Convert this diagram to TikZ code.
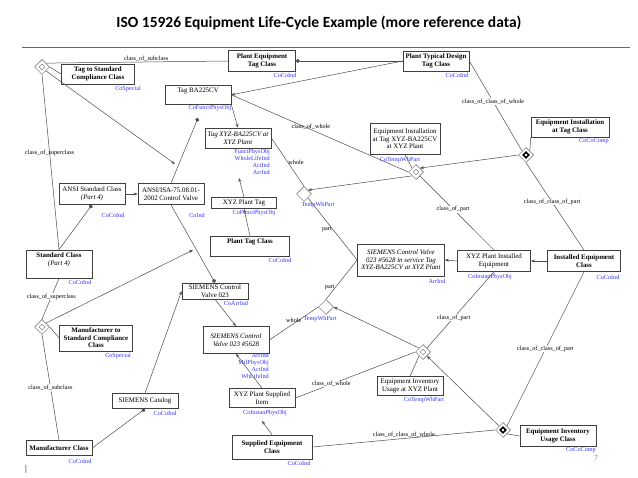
\documentclass[tikz,border=0pt]{standalone}
\usepackage{fontspec}
\setmainfont{Liberation Serif}
\newfontfamily\titlefont{Carlito}
\usetikzlibrary{arrows.meta,shapes.geometric}
\tikzset{
 box/.style={draw=black!75,line width=0.7pt,fill=white,align=center,inner sep=1pt,font=\fontsize{6.9}{7.6}\selectfont},
 bbox/.style={box,font=\fontsize{6.9}{7.6}\selectfont\bfseries},
 ibox/.style={box,font=\fontsize{6.9}{7.6}\selectfont\itshape},
 tag/.style={text=blue!80!white,font=\fontsize{6.2}{7}\selectfont,inner sep=0pt},
 rl/.style={font=\fontsize{6.2}{7}\selectfont,inner sep=0.5pt,fill=white},
 ln/.style={draw=black!70,line width=0.5pt},
 ar/.style={ln,-{Stealth[length=4pt,width=3pt]}},
 dt/.style={ln,-{Circle[length=4pt]}},
 dia/.style={diamond,draw=black!60,line width=0.5pt,fill=white,minimum size=15pt,inner sep=0pt},
 din/.style={diamond,draw=black!60,line width=0.4pt,minimum size=6pt,inner sep=0pt},
 dbin/.style={diamond,draw=black,line width=1.6pt,minimum size=6pt,inner sep=0pt},
}
\begin{document}
\begin{tikzpicture}[x=1pt,y=-1pt]
\useasboundingbox (0,0) rectangle (638,478);
\node[font=\titlefont\fontsize{15.5}{18}\selectfont\bfseries] (title) at (319,23) {ISO 15926 Equipment Life-Cycle Example (more reference data)};
\draw[black!60,line width=0.6pt] (22,47) coordinate (tl1) -- (630,47) coordinate (tl2);

% diamonds
\node[dia] (d1) at (42,67) {}; \node[din] (d1i) at (42,67) {};
\node[dia] (d2) at (42,327) {}; \node[din] (d2i) at (42,327) {};
\node[dia] (dei) at (416,172) {}; \node[din] (deii) at (416,172) {};
\node[dia] (dtw1) at (304,194) {};
\node[dia] (dtw2) at (326,307) {};
\node[dia] (deiu) at (423,352) {}; \node[din] (deiui) at (423,352) {};
\node[dia] (db1) at (526,155) {}; \node[dbin] (db1i) at (526,155) {};
\node[dia] (db2) at (503,430) {}; \node[dbin] (db2i) at (503,430) {};

% boxes
\node[bbox,minimum width=73pt,minimum height=20pt] (tsc) at (98,74) {Tag to Standard\\Compliance Class};
\node[tag] (tsct) at (128,89) {CoSpecial};
\node[bbox,minimum width=67pt,minimum height=21pt] (petc) at (262,61) {Plant Equipment\\Tag Class};
\node[tag] (petct) at (285,75) {CoCoInd};
\node[bbox,minimum width=66pt,minimum height=20pt] (ptd) at (436,61) {Plant Typical Design\\Tag Class};
\node[tag] (ptdt) at (457,75) {CoCoInd};
\node[box,minimum width=66pt,minimum height=19pt,anchor=north] (tba) at (198,85) {Tag BA225CV\\\strut};
\node[tag] (tbat) at (210,108) {CoFunctPhysObj};
\node[ibox,minimum width=66pt,minimum height=20pt] (txyz) at (238,138) {Tag XYZ-BA225CV at\\XYZ Plant};
\node[tag,align=right,anchor=north east] (txyzt) at (270,149) {FunctPhysObj\\WholeLifeInd\\ActInd\\ArrInd};
\node[box,minimum width=70pt,minimum height=31pt] (eit) at (405,139) {Equipment Installation\\at Tag XYZ-BA225CV\\at XYZ Plant};
\node[tag] (eitt) at (400,160) {CoTempWhPart};
\node[bbox,minimum width=78pt,minimum height=20pt] (eitc) at (570,127) {Equipment Installation\\at Tag Class};
\node[tag] (eitct) at (594,141) {CoCoComp};
\node[tag] (dtw1t) at (318,205) {TempWhPart};
\node[box,minimum width=66pt,minimum height=21pt,align=center] (ansc) at (92,194) {ANSI Standard Class\\\textit{(Part 4)}};
\node[tag] (ansct) at (113,215) {CoCoInd};
\node[box,minimum width=66pt,minimum height=21pt] (ansi) at (171,194) {ANSI/ISA-75.08.01-\\2002 Control Valve};
\node[tag] (ansit) at (197,215) {CoInd};
\node[box,minimum width=65pt,minimum height=11pt] (xpt) at (244,203) {XYZ Plant Tag};
\node[tag] (xptt) at (254,213) {CoFunctPhysObj};
\node[bbox,minimum width=79pt,minimum height=20pt,anchor=north] (ptc) at (250,236) {Plant Tag Class\\\strut};
\node[tag] (ptct) at (280,260) {CoCoInd};
\node[bbox,minimum width=66pt,minimum height=28pt] (stc) at (59,264) {Standard Class\\\textmd{\textit{(Part 4)}}\\\strut};
\node[tag] (stct) at (80,282) {CoCoInd};
\node[ibox,minimum width=87pt,minimum height=32pt] (sis) at (401,260) {SIEMENS Control Valve\\023 \#5628 in service Tag\\XYZ-BA225CV at XYZ Plant};
\node[tag] (sist) at (437,281) {ArrInd};
\node[box,minimum width=73pt,minimum height=21pt] (xpie) at (494,261) {XYZ Plant Installed\\Equipment};
\node[tag] (xpiet) at (490,277) {CoInstanPhysObj};
\node[bbox,minimum width=73pt,minimum height=21pt] (iec) at (584,261) {Installed Equipment\\Class};
\node[tag] (iect) at (608,277) {CoCoInd};
\node[box,minimum width=66pt,minimum height=16pt] (scv) at (215,291) {SIEMENS Control\\Valve 023};
\node[tag] (scvt) at (236,303) {CoArrInd};
\node[bbox,minimum width=73pt,minimum height=26pt] (msc) at (96,338) {Manufacturer to\\Standard Compliance\\Class};
\node[tag] (msct) at (118,356) {CoSpecial};
\node[tag] (dtw2t) at (320,319) {TempWhPart};
\node[ibox,minimum width=66pt,minimum height=27pt] (sc56) at (236,340) {SIEMENS Control\\Valve 023 \#5628};
\node[tag,align=right,anchor=north east] (sc56t) at (269,353) {ArrInd\\MtlPhysObj\\ActInd\\WhLifeInd};
\node[box,minimum width=66pt,minimum height=19pt] (eiu) at (410,386) {Equipment Inventory\\Usage at XYZ Plant};
\node[tag] (eiut) at (424,400) {CoTempWhPart};
\node[box,minimum width=66pt,minimum height=19pt] (xps) at (262,398) {XYZ Plant Supplied\\Item};
\node[tag] (xpst) at (265,413) {CoInstanPhysObj};
\node[box,minimum width=66pt,minimum height=15pt] (scat) at (145,401) {SIEMENS Catalog};
\node[tag] (scatt) at (165,413) {CoCoInd};
\node[bbox,minimum width=76pt,minimum height=21pt] (eiuc) at (558,436) {Equipment Inventory\\Usage Class};
\node[tag] (eiuct) at (581,450) {CoCoComp};
\node[bbox,minimum width=80pt,minimum height=24pt] (sec) at (272,447) {Supplied Equipment\\Class};
\node[tag] (sect) at (299,463) {CoCoInd};
\node[bbox,minimum width=66pt,minimum height=15pt] (mc) at (59,448) {Manufacturer Class};
\node[tag] (mct) at (80,461) {CoCoInd};
\node[font=\fontsize{7}{8}\selectfont,text=black!60,inner sep=0pt] (seven) at (596,458) {7};
\node[font=\fontsize{9}{9}\selectfont,inner sep=0pt] (bar) at (26,469) {|};

% free coordinates
\coordinate (p1) at (175,164);
\coordinate (p2) at (198,118);
\coordinate (p3) at (239,178);
\coordinate (p4) at (193,250);
\coordinate (p5) at (262,421);

% connectors
\path[ln] (d1.north east) -- node[rl,above,pos=0.55,fill=none] {class\_of\_subclass} (petc.west);
\path[dt] (ptd.west) -- (petc.east);
\path[ar] (ptd.west) -- (tba.east);
\path[ln] (d1.east) -- (tsc.west);
\path[ar] (d1.south east) -- (p1);
\path[ln] (d1.south) -- node[rl,pos=0.45,fill=none] {class\_of\_superclass} (stc.north);
\path[dt] (ansi.north) -- (p2);
\path[ar] (tba.south east) -- (txyz.north);
\path[ln] (tba.east) -- node[rl,pos=0.45,above,fill=none] {class\_of\_whole} (dei.west);
\path[ar] (ansc.east) -- (ansi.west);
\path[dt] (stc.north) -- (ansc.south);
\path[ln] (txyz.east) -- node[rl,pos=0.5,right,fill=none] {whole} (dtw1.north);
\path[ar] (dei.south west) -- (dtw1.north east);
\path[ar] (db1.west) -- (dei.north east);
\path[ln] (ptd.east) -- node[rl,pos=0.45] {class\_of\_class\_of\_whole} (db1.north west);
\path[ln] (eitc.south west) -- (db1.north east);
\path[ln] (db1.south) -- node[rl,pos=0.45] {class\_of\_class\_of\_part} (iec.north);
\path[ln] (eit.south) -- (dei.north west);
\path[ln] (dei.south east) -- node[rl,pos=0.45] {class\_of\_part} (xpie.north);
\path[ln] (dtw1.south east) -- node[rl,pos=0.5,left,fill=none] {part} (sis.west);
\path[ar] (xpie.west) -- (sis.east);
\path[ar] (iec.west) -- (xpie.east);
\path[ar] (ptc.north) -- (xpt.south);
\path[ar] (xpt.north) -- (p3);
\path[dt] (ansi.south) -- (scv.north);
\path[ar] (d2.north east) -- (p4);
\path[ar] (scv.south) -- (sc56.north);
\path[ln] (sc56.east) -- node[rl,pos=0.5,above,fill=none] {whole} (dtw2.west);
\path[ln] (dtw2.north) -- node[rl,pos=0.3,left,fill=none] {part} (sis.west);
\path[ln] (stc.south) -- node[rl,pos=0.45] {class\_of\_superclass} (d2.north);
\path[ln] (d2.east) -- (msc.west);
\path[ln] (d2.south) -- node[rl,pos=0.5] {class\_of\_subclass} (mc.north);
\path[dt] (mc.east) -- (scat.south);
\path[ar] (scat.north) -- (scv.west);
\path[ar] (xps.north) -- (sc56.south);
\path[ar] (sec.north) -- (p5);
\path[ln] (xps.east) -- node[rl,pos=0.3] {class\_of\_whole} (deiu.west);
\path[ar] (deiu.north west) -- (dtw2.east);
\path[ln] (deiu.north east) -- node[rl,pos=0.4] {class\_of\_part} (xpie.south);
\path[ln] (deiu.south west) -- (eiu.north);
\path[ar] (db2.north west) -- (deiu.south east);
\path[ln] (sec.east) -- node[rl,pos=0.5,above,fill=none] {class\_of\_class\_of\_whole} (db2.west);
\path[ln] (db2.north east) -- node[rl,pos=0.5] {class\_of\_class\_of\_part} (iec.south);
\path[ln] (db2.south east) -- (eiuc.west);
\end{tikzpicture}
\end{document}
